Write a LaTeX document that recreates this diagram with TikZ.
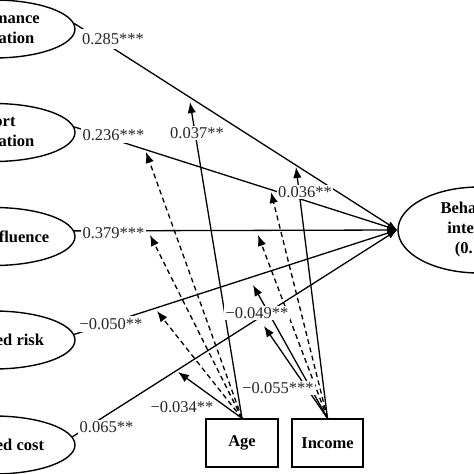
\documentclass[tikz,border=0pt]{standalone}
\usepackage{fontspec}
\setmainfont{Liberation Serif}
\usetikzlibrary{arrows.meta,shapes.geometric}
\begin{document}
\begin{tikzpicture}[x=1pt,y=-1pt,
  lat/.style={ellipse,draw,line width=1.4pt,minimum width=162pt,minimum height=58pt,inner sep=0pt,align=center,font=\fontsize{16.5}{20}\selectfont\bfseries},
  obs/.style={rectangle,draw,line width=1.4pt,minimum width=72pt,minimum height=48pt,inner sep=0pt,font=\fontsize{16.5}{20}\selectfont\bfseries},
  mainline/.style={line width=1.3pt,-{Latex[length=10pt,width=7pt]}},
  modsolid/.style={line width=1.3pt,-{Latex[length=11pt,width=8.5pt]}},
  moddash/.style={line width=1.3pt,dash pattern=on 5pt off 3.5pt,-{Latex[length=11pt,width=8.5pt]}},
  coef/.style={fill=white,inner sep=1.5pt,text=black!85,font=\fontsize{16.5}{20}\selectfont},
]
\useasboundingbox (0,0) rectangle (474,474);
\clip (0,0) rectangle (474,474);

% latent constructs
\node[lat] (pe) at (-6,29) {Performance\\expectation};
\node[lat] (ee) at (-6,132.5) {Effort\\expectation};
\node[lat] (si) at (-6,236.5) {Social influence};
\node[lat] (pr) at (-6,340) {Perceived risk};
\node[lat] (pc) at (-6,445) {Perceived cost};
\node[lat,minimum height=86pt] (bi) at (479,230) {Behavioral\\intention\\(0.\phantom{000)}};

% moderators
\node[obs] (age) at (242,443) {Age};
\node[obs,minimum width=71pt] (inc) at (327.5,443) {Income};

% main paths
\draw[mainline] (pe.4) -- (bi.west);
\draw[mainline] (ee.4) -- (bi.west);
\draw[mainline] (si.4) -- (bi.west);
\draw[mainline] (pr.4) -- (bi.west);
\draw[mainline] (pc.6) -- (bi.west);

% moderation targets
\coordinate (a1) at (190,102);
\coordinate (a2) at (146,152);
\coordinate (a3) at (150,235);
\coordinate (a4) at (157,311);
\coordinate (a5) at (178,372);
\coordinate (i1) at (296,167);
\coordinate (i2) at (271,192);
\coordinate (i3) at (258,235);
\coordinate (i4) at (253,285);
\coordinate (i5) at (264,326);

\draw[modsolid] (age.north) -- (a1);
\draw[moddash]  (age.north) -- (a2);
\draw[moddash]  (age.north) -- (a3);
\draw[moddash]  (age.north) -- (a4);
\draw[modsolid] (age.north) -- (a5);
\draw[modsolid] (inc.north) -- (i1);
\draw[moddash]  (inc.north) -- (i2);
\draw[moddash]  (inc.north) -- (i3);
\draw[modsolid] (inc.north) -- (i4);
\draw[modsolid] (inc.north) -- (i5);

% coefficients
\node[coef,inner ysep=4pt] (c1) at (113,39) {0.285***};
\node[coef,inner ysep=2.5pt] (c2) at (113.5,135) {0.236***};
\node[coef] (c3) at (113.5,233) {0.379***};
\node[coef,inner ysep=2.5pt] (c4) at (111,324) {−0.050**};
\node[coef] (c5) at (106.5,427) {0.065**};
\node[coef] (c6) at (197,133) {0.037**};
\node[coef,inner sep=1pt] (c7) at (305,192) {0.036**};
\node[coef] (c8) at (257,313) {−0.049**};
\node[coef] (c9) at (278,388) {−0.055***};
\node[coef] (c10) at (182,407) {−0.034**};
\end{tikzpicture}
\end{document}
